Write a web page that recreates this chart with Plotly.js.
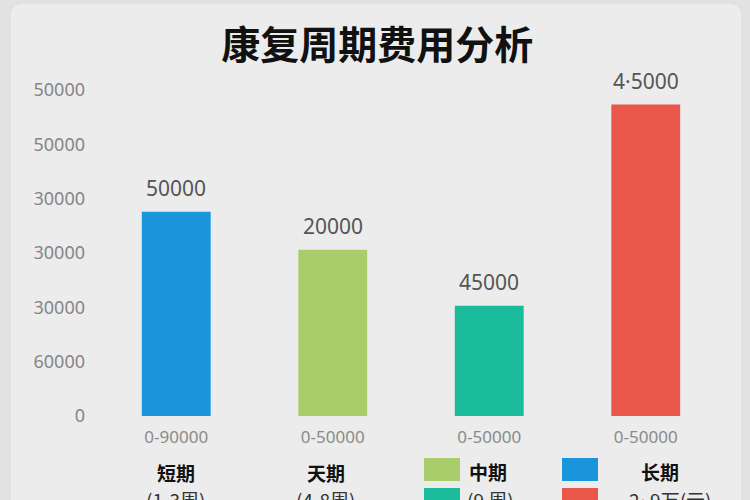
<!DOCTYPE html>
<html>
<head>
<meta charset="utf-8">
<script src="https://cdn.plot.ly/plotly-3.0.1.min.js"></script>
<style>
	html, body { margin: 0; padding: 0; background: #e2e2e2; }
	#chart { width: 750px; height: 500px; }
</style>
</head>
<body>
<div id="chart"></div>
<script>
const categories = ["短期", "天期", "中期", "长期"];
const xTickLabels = ["0-90000", "0-50000", "0-50000", "0-50000"];
const costValues = [37600, 30600, 20300, 57300];
const barLabels = ["50000", "20000", "45000", "4·5000"];
const barColors = ["#1a95dc", "#a9cd6b", "#1abc9c", "#e9574a"];
const yTickValues = [0, 10000, 20000, 30000, 40000, 50000, 60000];
const yTickLabels = ["0", "60000", "30000", "30000", "30000", "50000", "50000"];
const periodNames = ["短期", "天期"];
const periodRanges = ["(1-3周)", "(4-8周)"];
const legendNames = ["中期", "(9 周)", "长期", "2~9万(元)"];
const legendColors = ["#a9cd6b", "#1abc9c", "#1a95dc", "#e9574a"];

const W = 750, H = 500;
const M = { l: 98, r: 26, t: 79, b: 84 };
const plotW = W - M.l - M.r;
const plotH = H - M.t - M.b;

// pixel -> paper coords
const px = x => (x - M.l) / plotW;
const py = y => (H - M.b - y) / plotH;

function roundedRect(x0, y0, x1, y1, r) {
	const k = 0.45;
	return [
		`M${px(x0 + r)},${py(y0)}`,
		`L${px(x1 - r)},${py(y0)}`,
		`C${px(x1 - r * k)},${py(y0)} ${px(x1)},${py(y0 + r * k)} ${px(x1)},${py(y0 + r)}`,
		`L${px(x1)},${py(y1)}`,
		`L${px(x0)},${py(y1)}`,
		`L${px(x0)},${py(y0 + r)}`,
		`C${px(x0)},${py(y0 + r * k)} ${px(x0 + r * k)},${py(y0)} ${px(x0 + r)},${py(y0)}`,
		"Z",
	].join(" ");
}

const FONT = "'Noto Sans CJK SC', 'Noto Sans', sans-serif";
const NUMFONT = "'Noto Sans', 'Open Sans', sans-serif";

const trace = {
	type: "bar",
	x: categories,
	y: costValues,
	marker: { color: barColors, line: { width: 0 } },
	width: 0.44,
	hoverinfo: "none",
};

const annotations = [];
categories.forEach((c, i) => {
	annotations.push({
		x: c,
		y: costValues[i],
		xref: "x",
		yref: "y",
		text: barLabels[i],
		showarrow: false,
		xanchor: "center",
		yanchor: "bottom",
		yshift: 8,
		font: { family: NUMFONT, size: 21, color: "#555555" },
	});
});

const shapes = [
	{
		type: "path",
		xref: "paper",
		yref: "paper",
		path: roundedRect(10, 3, 742, 520, 12),
		fillcolor: "#ececec",
		line: { color: "#dcdcdc", width: 1 },
		layer: "below",
	},
];

// labels under the x axis (second row runs off the bottom edge, as in the source)
const periodX = [176, 326];
periodNames.forEach((name, i) => {
	annotations.push({
		x: px(periodX[i]), y: py(472), xref: "paper", yref: "paper",
		xanchor: "center", yanchor: "middle",
		text: "<b>" + name + "</b>", showarrow: false,
		font: { family: FONT, size: 19, color: "#111111" },
	});
	annotations.push({
		x: px(periodX[i]), y: py(499), xref: "paper", yref: "paper",
		xanchor: "center", yanchor: "middle",
		text: periodRanges[i], showarrow: false,
		font: { family: FONT, size: 19, color: "#333333" },
	});
});

// legend-like swatches
const swX = [424, 424, 562, 562];
const swY = [458, 488, 458, 488];
const legTextX = [488, 490, 660, 670];
const legTextY = [471, 499, 471, 499];
const legBold = [true, false, true, false];
legendNames.forEach((name, i) => {
	shapes.push({
		type: "rect", xref: "paper", yref: "paper",
		x0: px(swX[i]), x1: px(swX[i] + 36),
		y0: py(swY[i]), y1: py(swY[i] + 23),
		fillcolor: legendColors[i], line: { width: 0 },
	});
	annotations.push({
		x: px(legTextX[i]), y: py(legTextY[i]), xref: "paper", yref: "paper",
		xanchor: "center", yanchor: "middle",
		text: legBold[i] ? "<b>" + name + "</b>" : name, showarrow: false,
		font: { family: FONT, size: 19, color: legBold[i] ? "#111111" : "#333333" },
	});
});

const layout = {
	width: W,
	height: H,
	margin: M,
	paper_bgcolor: "#e2e2e2",
	plot_bgcolor: "rgba(0,0,0,0)",
	showlegend: false,
	bargap: 0.56,
	title: {
		text: "<b>康复周期费用分析</b>",
		x: 0.503,
		xanchor: "center",
		y: 0.91,
		yanchor: "middle",
		font: { family: FONT, size: 39, color: "#111111" },
	},
	xaxis: {
		tickvals: categories,
		ticktext: xTickLabels,
		showgrid: false,
		zeroline: false,
		showline: false,
		ticks: "",
		ticklabelstandoff: 9,
		tickfont: { family: NUMFONT, size: 17, color: "#8a8a8a" },
		fixedrange: true,
	},
	yaxis: {
		range: [0, 62000],
		tickvals: yTickValues,
		ticktext: yTickLabels,
		showgrid: false,
		zeroline: false,
		showline: false,
		ticks: "",
		ticklabelstandoff: 12,
		tickfont: { family: NUMFONT, size: 18, color: "#858585" },
		fixedrange: true,
	},
	shapes,
	annotations,
};

Plotly.newPlot("chart", [trace], layout, { displayModeBar: false, staticPlot: true });
</script>
</body>
</html>
